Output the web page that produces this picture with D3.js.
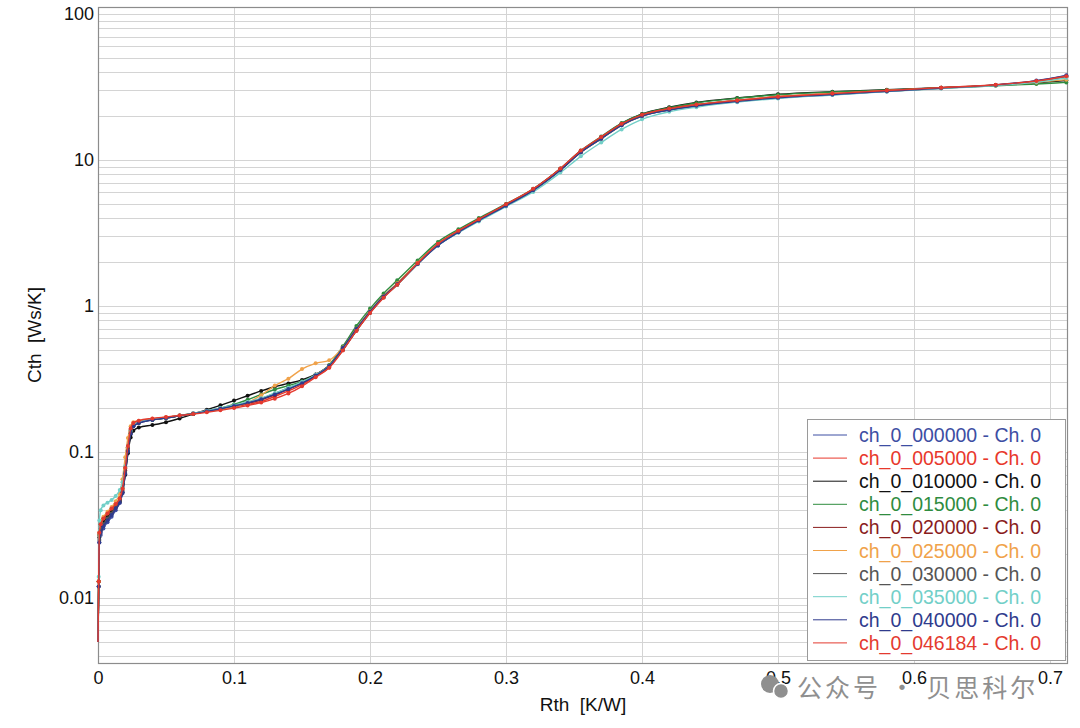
<!DOCTYPE html>
<html>
<head>
<meta charset="utf-8">
<script src="https://cdn.jsdelivr.net/npm/d3@7"></script>
<style>
  body { margin: 0; background: #fff; }
  svg { display: block; font-family: "Liberation Sans", Arial, sans-serif; }
</style>
</head>
<body>
<svg id="chart" width="1080" height="728"></svg>
<script>
// Rth [K/W] sample points shared by all curves
const rth = [0, 0.0005, 0.001, 0.002, 0.004, 0.007, 0.010, 0.013, 0.016, 0.018, 0.020, 0.022, 0.024, 0.026, 0.030, 0.040, 0.050, 0.060, 0.070, 0.080, 0.090, 0.100, 0.110, 0.120, 0.130, 0.140, 0.150, 0.160, 0.170, 0.180, 0.190, 0.200, 0.210, 0.220, 0.235, 0.250, 0.265, 0.280, 0.300, 0.320, 0.340, 0.355, 0.370, 0.385, 0.400, 0.420, 0.440, 0.470, 0.500, 0.540, 0.580, 0.620, 0.660, 0.690, 0.712];

// Cth [Ws/K] per measurement
const cth000000 = [0.005, 0.012, 0.024, 0.027, 0.030, 0.033, 0.036, 0.040, 0.045, 0.052, 0.070, 0.100, 0.132, 0.150, 0.158, 0.166, 0.171, 0.177, 0.183, 0.191, 0.199, 0.208, 0.219, 0.232, 0.250, 0.272, 0.298, 0.335, 0.390, 0.520, 0.700, 0.920, 1.17, 1.42, 1.95, 2.60, 3.20, 3.85, 4.85, 6.20, 8.50, 11.3, 14.0, 17.4, 20.0, 22.0, 23.4, 25.1, 26.6, 28.0, 29.5, 31.0, 32.6, 34.8, 37.8];
const cth005000 = [0.005, 0.013, 0.027, 0.031, 0.034, 0.037, 0.040, 0.043, 0.047, 0.055, 0.075, 0.105, 0.138, 0.152, 0.160, 0.168, 0.172, 0.178, 0.183, 0.190, 0.196, 0.203, 0.212, 0.222, 0.240, 0.262, 0.290, 0.330, 0.380, 0.500, 0.680, 0.900, 1.15, 1.40, 1.95, 2.65, 3.25, 3.90, 4.95, 6.30, 8.70, 11.5, 14.2, 17.5, 20.2, 22.3, 23.8, 25.5, 27.0, 28.4, 29.8, 31.2, 32.6, 34.5, 37.0];
const cth010000 = [0.005, 0.013, 0.026, 0.030, 0.033, 0.036, 0.039, 0.042, 0.046, 0.053, 0.070, 0.098, 0.126, 0.140, 0.147, 0.153, 0.160, 0.170, 0.182, 0.195, 0.209, 0.225, 0.243, 0.262, 0.280, 0.295, 0.312, 0.340, 0.390, 0.500, 0.680, 0.900, 1.15, 1.40, 1.95, 2.62, 3.22, 3.88, 4.90, 6.25, 8.60, 11.4, 14.3, 17.8, 20.7, 23.0, 24.8, 26.6, 28.2, 29.4, 30.3, 31.3, 32.5, 33.8, 35.0];
const cth015000 = [0.005, 0.013, 0.027, 0.032, 0.035, 0.038, 0.041, 0.044, 0.048, 0.057, 0.078, 0.108, 0.140, 0.153, 0.159, 0.166, 0.171, 0.177, 0.183, 0.191, 0.200, 0.212, 0.228, 0.248, 0.268, 0.285, 0.305, 0.338, 0.395, 0.530, 0.730, 0.960, 1.22, 1.50, 2.05, 2.75, 3.35, 4.00, 5.00, 6.35, 8.75, 11.6, 14.5, 17.9, 20.6, 22.8, 24.6, 26.5, 28.0, 29.2, 30.2, 31.2, 32.2, 33.2, 34.0];
const cth020000 = [0.005, 0.013, 0.028, 0.032, 0.035, 0.038, 0.041, 0.044, 0.048, 0.056, 0.077, 0.108, 0.142, 0.155, 0.161, 0.168, 0.172, 0.178, 0.184, 0.191, 0.198, 0.206, 0.216, 0.228, 0.246, 0.270, 0.298, 0.338, 0.390, 0.510, 0.690, 0.910, 1.16, 1.42, 1.97, 2.66, 3.26, 3.92, 4.95, 6.30, 8.70, 11.5, 14.2, 17.6, 20.3, 22.4, 23.9, 25.6, 27.1, 28.5, 29.9, 31.3, 32.7, 34.6, 37.2];
const cth025000 = [0.005, 0.013, 0.028, 0.033, 0.036, 0.039, 0.042, 0.046, 0.052, 0.065, 0.092, 0.125, 0.150, 0.160, 0.164, 0.169, 0.173, 0.178, 0.183, 0.189, 0.196, 0.205, 0.218, 0.245, 0.285, 0.318, 0.370, 0.405, 0.425, 0.520, 0.700, 0.920, 1.17, 1.43, 1.98, 2.66, 3.26, 3.90, 4.92, 6.25, 8.60, 11.3, 14.0, 17.3, 20.0, 22.2, 23.8, 25.6, 27.2, 28.6, 29.9, 31.2, 32.5, 34.0, 35.5];
const cth030000 = [0.005, 0.012, 0.025, 0.029, 0.032, 0.035, 0.038, 0.042, 0.046, 0.054, 0.073, 0.103, 0.135, 0.151, 0.159, 0.167, 0.172, 0.177, 0.183, 0.190, 0.198, 0.207, 0.218, 0.232, 0.252, 0.275, 0.300, 0.336, 0.388, 0.515, 0.695, 0.915, 1.16, 1.41, 1.95, 2.62, 3.22, 3.87, 4.88, 6.22, 8.55, 11.3, 14.0, 17.4, 20.1, 22.1, 23.6, 25.3, 26.8, 28.2, 29.6, 31.0, 32.5, 34.5, 37.0];
const cth035000 = [0.005, 0.014, 0.034, 0.040, 0.043, 0.045, 0.047, 0.050, 0.055, 0.062, 0.080, 0.110, 0.140, 0.153, 0.160, 0.167, 0.172, 0.178, 0.184, 0.192, 0.200, 0.209, 0.220, 0.234, 0.253, 0.276, 0.302, 0.338, 0.390, 0.510, 0.690, 0.910, 1.15, 1.40, 1.93, 2.60, 3.18, 3.80, 4.80, 6.05, 8.20, 10.6, 13.2, 16.2, 19.0, 21.4, 23.0, 24.9, 26.4, 27.9, 29.4, 30.9, 32.4, 34.2, 36.5];
const cth040000 = [0.005, 0.012, 0.024, 0.028, 0.031, 0.034, 0.037, 0.041, 0.045, 0.053, 0.071, 0.101, 0.134, 0.150, 0.158, 0.166, 0.171, 0.177, 0.183, 0.190, 0.198, 0.207, 0.217, 0.230, 0.248, 0.270, 0.296, 0.334, 0.388, 0.515, 0.695, 0.915, 1.16, 1.41, 1.94, 2.60, 3.20, 3.85, 4.86, 6.20, 8.55, 11.3, 14.0, 17.3, 20.0, 22.0, 23.5, 25.2, 26.7, 28.1, 29.6, 31.1, 32.7, 35.0, 38.0];
const cth046184 = [0.005, 0.013, 0.028, 0.032, 0.035, 0.038, 0.041, 0.044, 0.048, 0.056, 0.078, 0.110, 0.145, 0.158, 0.164, 0.170, 0.174, 0.178, 0.182, 0.187, 0.193, 0.200, 0.208, 0.218, 0.232, 0.252, 0.282, 0.325, 0.378, 0.495, 0.675, 0.895, 1.14, 1.40, 1.96, 2.67, 3.28, 3.93, 4.98, 6.35, 8.75, 11.6, 14.4, 17.7, 20.4, 22.5, 24.0, 25.6, 27.1, 28.5, 29.9, 31.3, 32.8, 34.8, 37.5];

const seriesNames = ['ch_0_000000 - Ch. 0', 'ch_0_005000 - Ch. 0', 'ch_0_010000 - Ch. 0', 'ch_0_015000 - Ch. 0', 'ch_0_020000 - Ch. 0', 'ch_0_025000 - Ch. 0', 'ch_0_030000 - Ch. 0', 'ch_0_035000 - Ch. 0', 'ch_0_040000 - Ch. 0', 'ch_0_046184 - Ch. 0'];
const seriesValues = [cth000000, cth005000, cth010000, cth015000, cth020000, cth025000, cth030000, cth035000, cth040000, cth046184];
const seriesColors = ['#3d4ea3', '#e8382c', '#111111', '#2f8c3f', '#8a1d1d', '#f0a24a', '#555555', '#72cfc8', '#2f3b8d', '#e43a2f'];

const xTicks = [0, 0.1, 0.2, 0.3, 0.4, 0.5, 0.6, 0.7];
const yTicks = [0.01, 0.1, 1, 10, 100];

const svg = d3.select('#chart');
const plotLeft = 98, plotRight = 1067, plotTop = 7, plotBottom = 663;

const x = d3.scaleLinear().domain([0, 0.7125]).range([plotLeft, plotRight]);
const y = d3.scaleLog().domain([0.00359, 111.7]).range([plotBottom, plotTop]);

// grid: every 1..9 x 10^n on y, every 0.1 on x
const minor = [];
for (let e = -3; e <= 2; e++) {
  for (let k = 1; k <= 9; k++) {
    const v = k * Math.pow(10, e);
    if (v >= 0.00359 && v <= 111.7) minor.push(v);
  }
}
const grid = svg.append('g').attr('stroke', '#d4d4d4').attr('stroke-width', 1);
grid.selectAll('line.h').data(minor).enter().append('line')
  .attr('x1', plotLeft).attr('x2', plotRight)
  .attr('y1', d => Math.round(y(d)) + 0.5).attr('y2', d => Math.round(y(d)) + 0.5);
grid.selectAll('line.v').data(xTicks.slice(1)).enter().append('line')
  .attr('y1', plotTop).attr('y2', plotBottom)
  .attr('x1', d => Math.round(x(d)) + 0.5).attr('x2', d => Math.round(x(d)) + 0.5);

// frame
svg.append('rect').attr('x', plotLeft + 0.5).attr('y', plotTop + 0.5)
  .attr('width', plotRight - plotLeft).attr('height', plotBottom - plotTop)
  .attr('fill', 'none').attr('stroke', '#8c8c8c').attr('stroke-width', 1.2);

// axes
const xAxis = svg.append('g').attr('transform', `translate(0,${plotBottom})`)
  .call(d3.axisBottom(x).tickValues(xTicks).tickFormat(d => d === 0 ? '0' : d3.format('.1f')(d)).tickSize(0).tickPadding(8));
const yAxis = svg.append('g').attr('transform', `translate(${plotLeft},0)`)
  .call(d3.axisLeft(y).tickValues(yTicks).tickFormat(d => String(d)).tickSize(0).tickPadding(4));
[xAxis, yAxis].forEach(a => {
  a.select('.domain').remove();
  a.selectAll('text').attr('font-size', 18).attr('fill', '#111')
    .attr('font-family', '"Liberation Sans", Arial, sans-serif');
});

svg.append('text').attr('x', 583).attr('y', 711).attr('text-anchor', 'middle')
  .style('white-space', 'pre')
  .attr('font-size', 19).attr('fill', '#111').text('Rth  [K/W]');
svg.append('text').attr('transform', 'translate(41,335) rotate(-90)').attr('text-anchor', 'middle')
  .style('white-space', 'pre')
  .attr('font-size', 19).attr('fill', '#111').text('Cth  [Ws/K]');

// curves
const plot = svg.append('g');
const line = d3.line().x(d => x(d[0])).y(d => y(d[1])).curve(d3.curveMonotoneX);
seriesValues.forEach((vals, i) => {
  const pts = rth.map((r, j) => [r, vals[j]]).filter(d => d[1] !== undefined);
  plot.append('path').datum(pts)
    .attr('fill', 'none').attr('stroke', seriesColors[i]).attr('stroke-width', 1.4)
    .attr('d', line);
  plot.selectAll(null).data(pts.slice(1)).enter().append('circle')
    .attr('cx', d => x(d[0])).attr('cy', d => y(d[1])).attr('r', 2)
    .attr('fill', seriesColors[i]);
});

// legend
const lg = svg.append('g');
lg.append('rect').attr('x', 807.5).attr('y', 419.5).attr('width', 258).attr('height', 241)
  .attr('fill', '#fff').attr('stroke', '#9a9a9a').attr('stroke-width', 1);
seriesNames.forEach((name, i) => {
  const cy = 435 + i * 23.1;
  lg.append('line').attr('x1', 813).attr('x2', 847).attr('y1', cy).attr('y2', cy)
    .attr('stroke', seriesColors[i]).attr('stroke-width', 1);
  lg.append('text').attr('x', 859).attr('y', cy + 7).attr('font-size', 19.5)
    .attr('fill', seriesColors[i]).text(name);
});

// watermark
const wm = svg.append('g').attr('fill', '#8f8f8f');
wm.append('circle').attr('cx', 770).attr('cy', 684).attr('r', 9);
wm.append('circle').attr('cx', 781).attr('cy', 691).attr('r', 7.5).attr('stroke', '#fff').attr('stroke-width', 1.5);
wm.append('text').attr('x', 797).attr('y', 697).attr('font-size', 25)
  .attr('font-family', '"Noto Sans CJK SC", sans-serif').attr('letter-spacing', 3)
  .text('公众号 · 贝思科尔');
</script>
</body>
</html>
